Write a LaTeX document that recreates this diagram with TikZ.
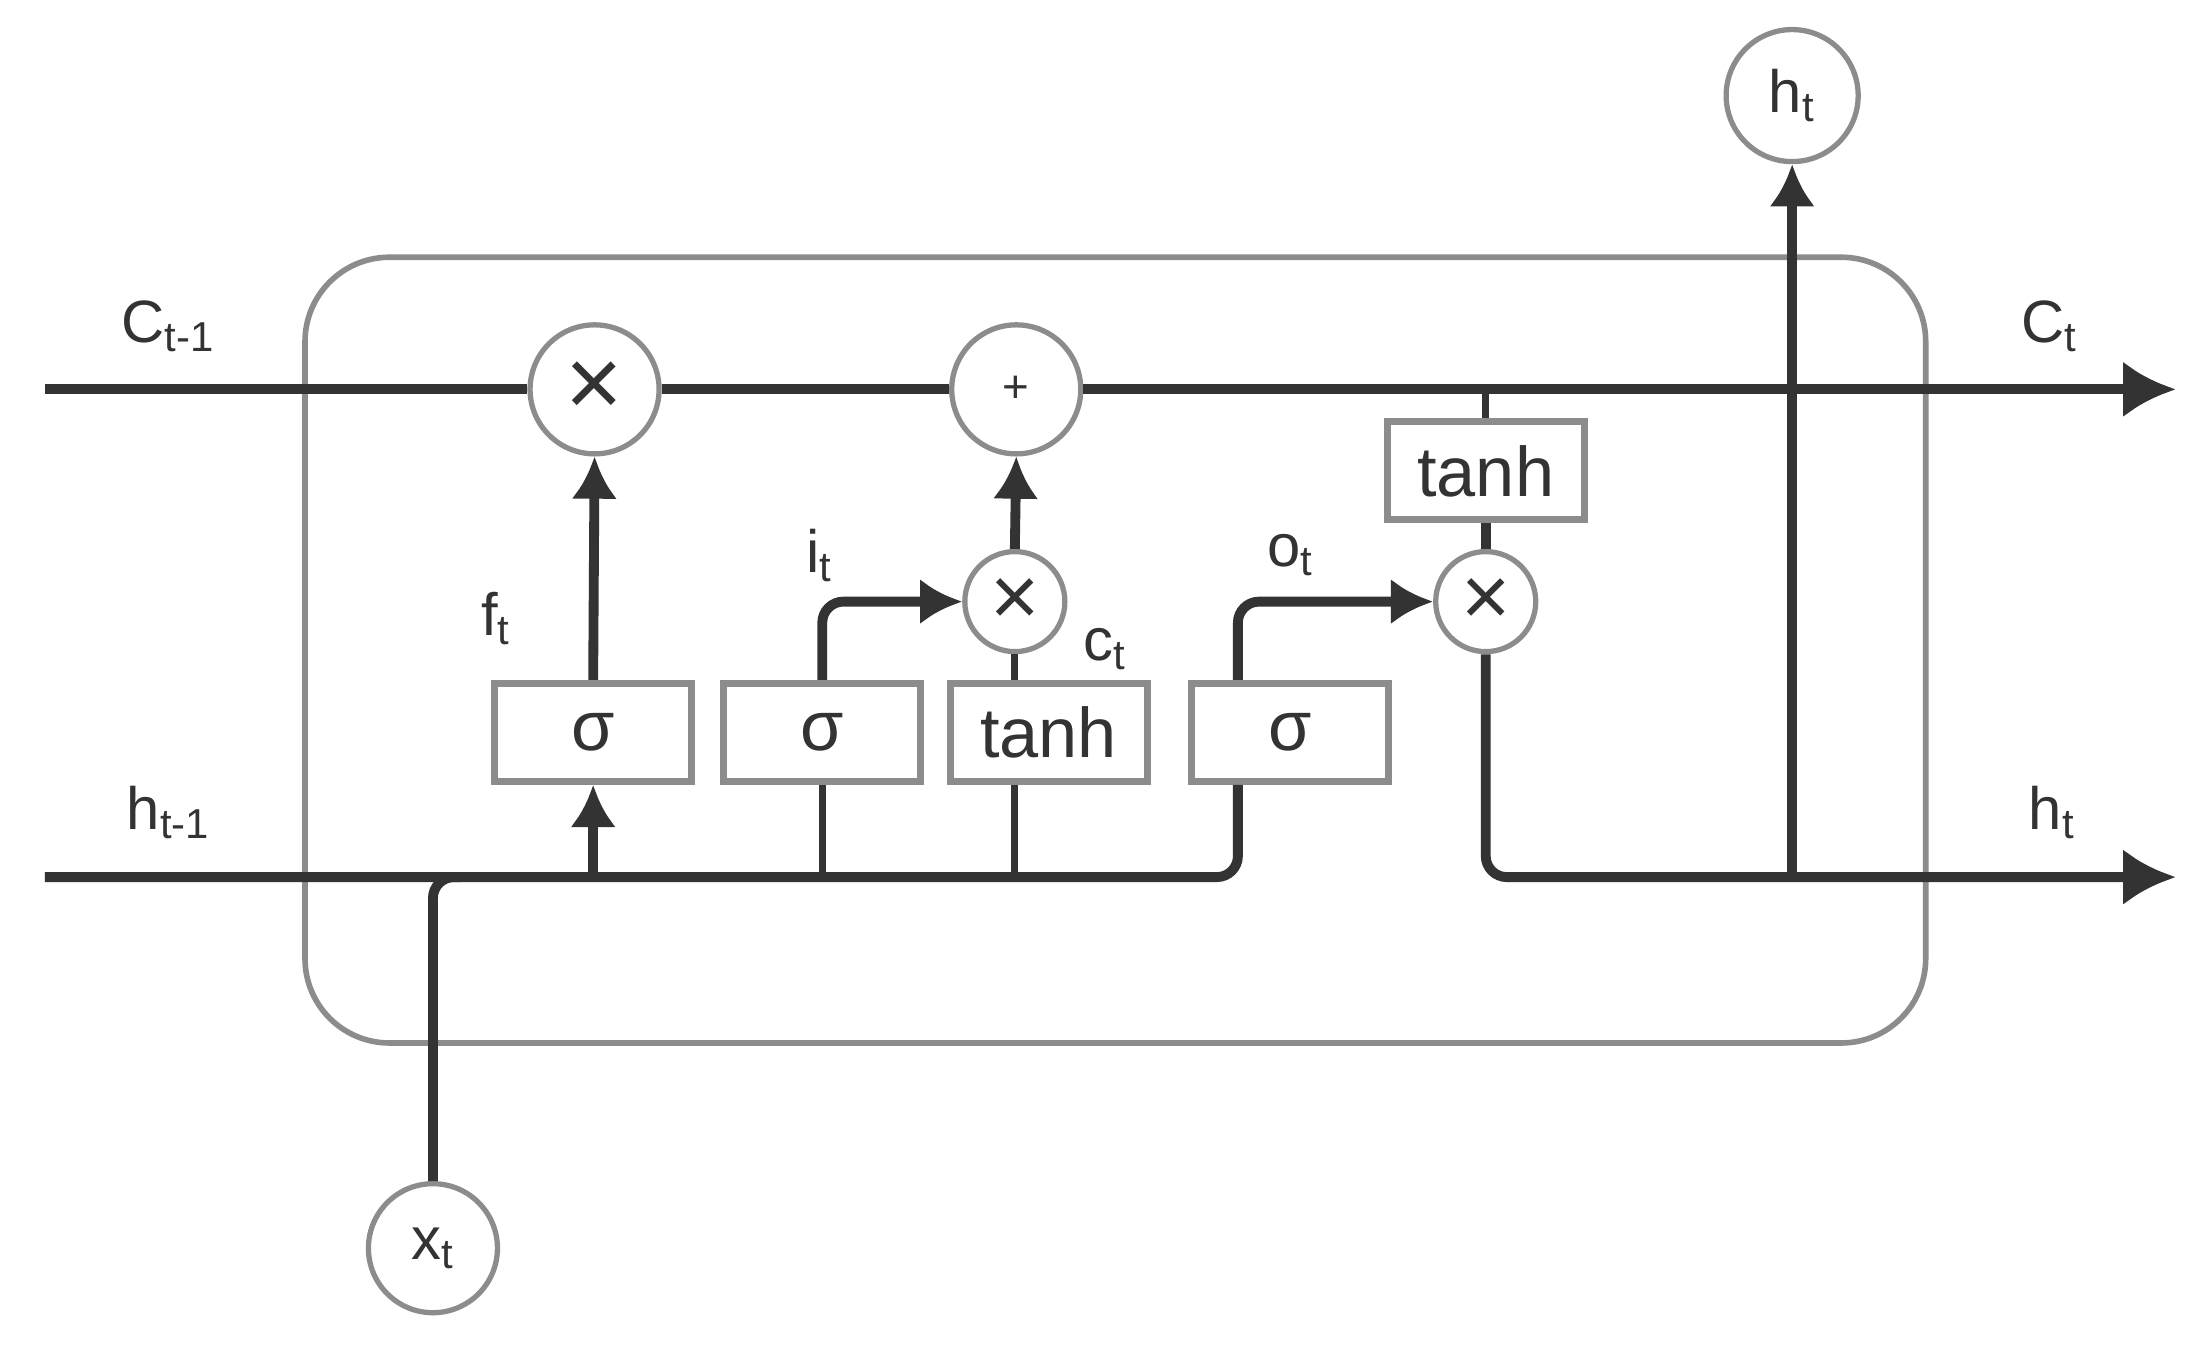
\documentclass[tikz,border=0pt]{standalone}
\usepackage{fontspec}
\setmainfont{Liberation Sans}
\usetikzlibrary{arrows.meta, calc, positioning}
\definecolor{wirec}{HTML}{333333}
\definecolor{edgec}{HTML}{8C8C8C}
\tikzset{>={Latex[length=12pt, width=13pt]}}
\tikzset{gate-c/.style = {draw=edgec, fill=white, circle, line width=1.5pt, inner sep=0pt, minimum size=1.29cm}}
\tikzset{gate-s/.style = {draw=edgec, fill=white, circle, line width=1.5pt, inner sep=0pt, minimum size=1.0cm}}
\tikzset{gate-r/.style = {draw=edgec, fill=white, rectangle, line width=2pt, minimum width=1.97cm, minimum height=0.98cm, font=\fontsize{20}{22}\selectfont}}
\tikzset{wire/.style = {draw=wirec, line width=2.8pt}}
\tikzset{wire-t/.style = {draw=wirec, line width=2pt}}
\begin{document}
\begin{tikzpicture}[x=0.014056cm, y=-0.014056cm, font=\fontsize{17}{20}\selectfont, text=wirec]
  \useasboundingbox (0,0) rectangle (1568,962.6);
  \tikzset{bigtip/.style = {-{Latex[length=15pt, width=16pt]}}}
  \draw[edgec, line width=1.6pt, rounded corners=24pt] (217,183) rectangle (1370,742);
  \path (32,277) coordinate (cin)
      ++(1516,0) coordinate (cout)
        (32,624) coordinate (hin)
      ++(1516,0) coordinate (hend);
  \path (423,277) node[gate-c, font=\fontsize{28}{28}\selectfont] (mulf) {×}
      ++(300,0) node[gate-c, font=\fontsize{13}{13}\selectfont] (addc) {+}
        (422,521) node[gate-r] (sigf) {σ}
      ++(163,0) node[gate-r] (sigi) {σ}
      ++(161,0) node[gate-r] (tanc) {tanh}
      ++(172,0) node[gate-r] (sigo) {σ}
        (1057,335) node[gate-r] (tanh) {tanh}
        (722,428) node[gate-s, font=\fontsize{24}{24}\selectfont] (muli) {×}
        (1057,428) node[gate-s, font=\fontsize{24}{24}\selectfont] (mulo) {×}
        (1275,68) node[gate-c, minimum size=1.32cm] (hout) {h\textsubscript{t}}
        (308,888) node[gate-c] (xin) {x\textsubscript{t}};
  \coordinate (opin) at ($(sigo.south west)!0.243!(sigo.south east)$);

  % labels
  \node at (120,232) {C\textsubscript{t-1}};
  \node at (1458,232) {C\textsubscript{t}};
  \node at (120,578) {h\textsubscript{t-1}};
  \node at (1460,578) {h\textsubscript{t}};
  \node at (353,440) {f\textsubscript{t}};
  \node at (583,395) {i\textsubscript{t}};
  \node at (918,395) {o\textsubscript{t}};
  \node at (786,462) {c\textsubscript{t}};

  % cell state and hidden state
  \draw[wire] (cin) -- (mulf.west);
  \draw[wire] (mulf.east) -- (addc.west);
  \draw[wire, bigtip] (addc.east) -- (cout);
  \draw[wire, rounded corners=6pt] (hin) -| (opin);
  \draw[wire, rounded corners=6pt] (xin.north) |- ($(xin.north |- hin)+(20,0)$);
  \draw[wire, bigtip, rounded corners=6pt] (mulo.south) |- (hend);

  % gates
  \foreach \i/\o in {sigf.south|-hin/sigf.south, sigf.north/mulf.south, muli.north/addc.south}
  {
    \draw[wire, ->] (\i) -- (\o);
  }
  \foreach \i/\o in {sigi.south|-hin/sigi.south, muli.south|-hin/muli.south|-tanc.south,
   muli.south|-tanc.north/muli.south, tanh.north|-cin/tanh.north}
  {
    \draw[wire-t] (\i) -- (\o);
  }
  \draw[wire, ->, rounded corners=6pt] (sigi.north) |- (muli.west);
  \draw[wire, ->, rounded corners=6pt] (opin|-sigo.north) |- (mulo.west);
  \draw[wire] (tanh.south) -- (mulo.north);
  \draw[wire, ->] (hout.south|-hend) -- (hout.south);
\end{tikzpicture}
\end{document}
